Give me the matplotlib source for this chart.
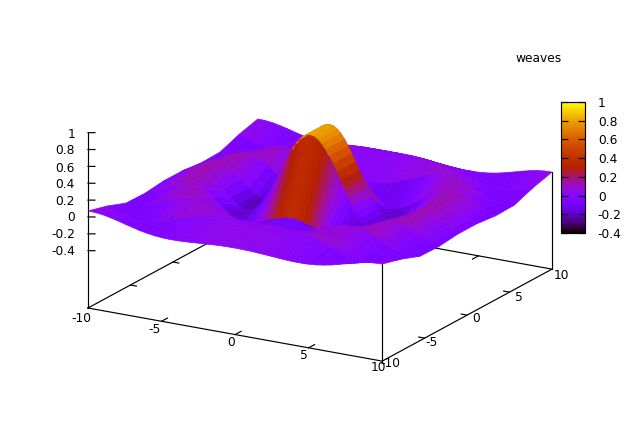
import numpy as np
import matplotlib
matplotlib.use("Agg")
import matplotlib.pyplot as plt
from matplotlib.colors import ListedColormap, Normalize
from matplotlib.cm import ScalarMappable
from mpl_toolkits.mplot3d import proj3d

plt.rcParams['font.family'] = 'DejaVu Sans'
FS = 8.8
W_PX, H_PX = 640, 423

# Values: half rows
x_half = [0, .25, .5, .75, 1, 1.25, 1.5, 1.75, 2, 2.25, 2.5, 2.75, 3, 3.25, 3.5, 3.75,
          4, 4.25, 4.5, 4.75, 5, 5.5, 6, 6.5, 7, 7.5, 8, 8.5, 9, 9.5, 10]
y_samples = [-10, -7.78, -5.56, -3.33, -1.11, 1.11, 3.33, 5.56, 7.78, 10]
row_y1 = [.806, .798, .771, .727, .667, .595, .513, .423, .330, .236, .144, .059,
          -.018, -.084, -.138, -.178, -.204, -.216, -.215, -.202, -.179,
          -.111, -.030, .047, .102, .127, .121, .088, .038, -.014, -.059]
row_y3 = [-.056, -.059, -.066, -.079, -.095, -.114, -.134, -.154, -.175, -.192, -.205, -.214,
          -.217, -.214, -.206, -.190, -.169, -.143, -.113, -.080, -.045,
          .023, .080, .117, .128, .114, .080, .032, -.018, -.060, -.085]
row_y5 = [-.119, -.118, -.115, -.111, -.105, -.097, -.087, -.075, -.062, -.047, -.031, -.013,
          .005, .024, .043, .061, .078, .094, .107, .117, .124,
          .128, .116, .090, .051, .009, -.032, -.066, -.087, -.091, -.079]
row_y7 = [.128, .128, .128, .128, .127, .127, .126, .125, .122, .120, .116, .112,
          .106, .099, .091, .082, .072, .060, .047, .033, .019,
          -.011, -.039, -.065, -.083, -.091, -.088, -.075, -.053, -.022, .008]
row_y10 = [-.054, -.055, -.055, -.057, -.058, -.060, -.063, -.066, -.069, -.072, -.075, -.078,
           -.082, -.084, -.087, -.089, -.091, -.091, -.091, -.090, -.088,
           -.080, -.067, -.050, -.028, -.005, .019, .040, .058, .068, .071]

axis_ticks = [-5, 0, 5]
x_labels = ["-10", "-5", "0", "5", "10"]
y_labels = ["-10", "-5", "0", "5", "10"]
z_ticks = [1, .8, .6, .4, .2, 0, -.2, -.4]
z_labels = ["1", "0.8", "0.6", "0.4", "0.2", "0", "-0.2", "-0.4"]
cb_ticks = z_ticks
cb_labels = z_labels
title_text = "weaves"

# Layout, in image pixels
x_label_pos = [(81, 318), (155, 329), (231, 342.5), (304, 355), (378, 367)]
y_label_pos = [(390.5, 363), (432, 342), (476, 319), (519, 297), (561, 275)]
z_label_y = [134.5, 151, 168, 184.5, 201, 217.7, 234.5, 251.3]
Z_BASE, Z_TOP = -1.08, 1.0

# gnuplot's default pm3d palette (rgbformulae 7,5,15)
t = np.linspace(0, 1, 256)
cmap = ListedColormap(np.c_[np.sqrt(t), t ** 3, np.clip(np.sin(2 * np.pi * t), 0, 1)])
norm = Normalize(-0.4, 1)

xs = np.r_[-np.array(x_half[:0:-1]), x_half]
half_rows = [row_y10, row_y7, row_y5, row_y3, row_y1]
rows = half_rows + half_rows[::-1]
Z = np.array([np.r_[np.array(r)[:0:-1], r] for r in rows])
X, Y = np.meshgrid(xs, y_samples)

fig = plt.figure(figsize=(W_PX / 100, H_PX / 100), dpi=100)
fig.patch.set_facecolor('white')
ax = fig.add_axes([0, 0, 1, 1], projection='3d', computed_zorder=False)
ax.apply_aspect = lambda position=None: None
ax.set_proj_type('ortho')
ax.view_init(elev=30, azim=-60)
ax.set_box_aspect((1, 1, 0.953))
ax.set_xlim(-10, 10, view_margin=0)
ax.set_ylim(-10, 10, view_margin=0)
ax.set_zlim(Z_BASE, Z_TOP, view_margin=0)
ax.set_axis_off()

# Fit the stretched projection on the reference's base corners
M = ax.get_proj()
def project(x, y, z):
    u, v, _ = proj3d.proj_transform(x, y, z, M)
    return np.array([u, v])
A = project(-10, -10, Z_BASE)
B = project(10, -10, Z_BASE)
C = project(10, 10, Z_BASE)
fig.canvas.draw()
pA, pC, pB = (ax.transData.transform(p) for p in (A, C, B))
ax_u = (pC[0] - pA[0]) / (C[0] - A[0])
ax_v = (pB[1] - pC[1]) / (B[1] - C[1])
new_au = (552 - 88) / (C[0] - A[0])
new_av = ((H_PX - 360) - (H_PX - 268)) / (B[1] - C[1])
w = W_PX * new_au / ax_u
h = H_PX * new_av / ax_v
x0 = 88 - new_au * pA[0] / ax_u
y0 = (H_PX - 308) - new_av * pA[1] / ax_v
ax.set_position([x0 / W_PX, y0 / H_PX, w / W_PX, h / H_PX])

LW = 0.85
def line(xv, yv, zv):
    ax.plot(xv, yv, zv, color='black', lw=LW, zorder=1, solid_capstyle='projecting')

# Base and vertical borders
line([-10, 10, 10, -10, -10], [-10, -10, 10, 10, -10], [Z_BASE] * 5)
line([-10, -10], [-10, -10], [Z_BASE, Z_TOP])
line([10, 10], [-10, -10], [Z_BASE, Z[0, -1]])
line([10, 10], [10, 10], [Z_BASE, Z[-1, -1]])
# Ticks with mirrors
for v in axis_ticks:
    line([v, v], [-10, -9.3], [Z_BASE, Z_BASE])
    line([v, v], [10, 9.3], [Z_BASE, Z_BASE])
    line([10, 9.6], [v, v], [Z_BASE, Z_BASE])
    line([-10, -9.6], [v, v], [Z_BASE, Z_BASE])
for zt in z_ticks:
    line([-10, -9.64], [-10, -9.8], [zt, zt])

surf = ax.plot_surface(X, Y, Z, rstride=1, cstride=1, cmap=cmap, norm=norm, shade=False,
                       linewidth=0.5, antialiased=True, zorder=2)
surf.set_edgecolor('face')

def px_text(x, y, s, ha='center'):
    fig.text(x / W_PX, 1 - y / H_PX, s, ha=ha, va='center', fontsize=FS, color='black')

for (px, py), s in zip(x_label_pos, x_labels):
    px_text(px, py, s)
for (px, py), s in zip(y_label_pos, y_labels):
    px_text(px, py, s)
for py, s in zip(z_label_y, z_labels):
    px_text(75, py, s, ha='right')
px_text(539, 58, title_text)

# Colour box
cax = fig.add_axes([561 / W_PX, 1 - 233 / H_PX, 24 / W_PX, 131 / H_PX])
cb = fig.colorbar(ScalarMappable(norm=norm, cmap=cmap), cax=cax)
cb.set_ticks(cb_ticks, labels=cb_labels)
cb.outline.set_linewidth(LW)
cax.tick_params(axis='y', which='both', direction='in', left=True, right=True,
                length=5, width=LW, pad=9.2, labelsize=FS)
cb.minorticks_off()

fig.savefig('out.png', dpi=100)
